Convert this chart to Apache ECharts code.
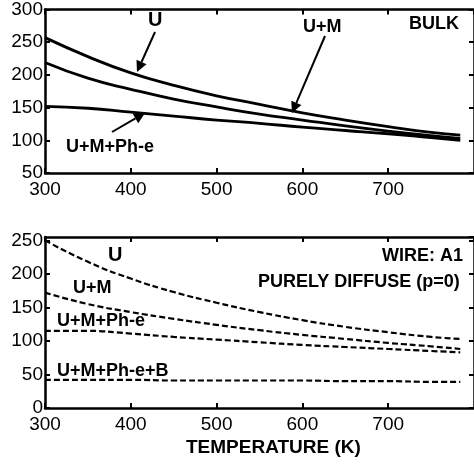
<!DOCTYPE html><html><head><meta charset="utf-8"><script src="https://cdn.jsdelivr.net/npm/echarts@6/dist/echarts.min.js"></script></head><body style="margin:0"><div id="c" style="width:474px;height:474px"></div><script>
const temps=[300,350,400,450,500,550,600,650,700,750,784];
const bulkU=[257,228,203,184,168,155,142,131,121,112,108];
const bulkUM=[219,195,178,163,151,140,131,122,114,107,103];
const bulkUMPh=[152,149,143,137,131,126,120,115,110,104,100];
const wireU=[250,218,193,173,157,143,131,121,113,106,103];
const wireUM=[172,155,143,133,124,116,109,103,97,92,88];
const wireUMPh=[115,115,111,106,102,98,94,91,88,85,83];
const wireUMPhB=[42,42,42,41,41,41,41,40,40,39,39];
const ch=echarts.init(document.getElementById('c'));
const F='Liberation Sans';
const pw=443.5;
function xa(gi,pos,show){return {type:'value',gridIndex:gi,position:pos,min:300,max:800,interval:100,
 axisLine:{show:true,onZero:false,lineStyle:{color:'#000',width:2.5}},axisTick:{inside:true,length:5,lineStyle:{color:'#000',width:2}},
 axisLabel:{show:show,color:'#000',fontFamily:F,fontSize:19,margin:7,showMaxLabel:false},splitLine:{show:false}};}
function ya(gi,pos,show,max){return {type:'value',gridIndex:gi,position:pos,min:gi==0?50:0,max:max,interval:50,
 axisLine:{show:true,onZero:false,lineStyle:{color:'#000',width:2.5}},axisTick:{inside:true,length:5,lineStyle:{color:'#000',width:2}},
 axisLabel:{show:show,color:'#000',fontFamily:F,fontSize:19,margin:2},splitLine:{show:false}};}
function s(d,gi,dash){return {type:'line',xAxisIndex:gi*2,yAxisIndex:gi*2,data:temps.map((t,i)=>[t,d[i]]),smooth:true,symbol:'none',
 lineStyle:{color:'#000',width:dash?2.2:2.8,type:dash?[6,3]:'solid'}};}
const T=(x,y,t,fs)=>({type:'text',left:x,top:y,style:{text:t,font:'bold '+(fs||18)+'px '+F,fill:'#000'}});
const arrow=(x1,y1,x2,y2)=>{const a=Math.atan2(y2-y1,x2-x1),L=11,W=5.5;
 return [{type:'line',shape:{x1,y1,x2:x2-Math.cos(a)*L,y2:y2-Math.sin(a)*L},style:{stroke:'#000',lineWidth:2}},
 {type:'polygon',shape:{points:[[x2,y2],[x2-Math.cos(a)*L-Math.sin(a)*W,y2-Math.sin(a)*L+Math.cos(a)*W],[x2-Math.cos(a)*L+Math.sin(a)*W,y2-Math.sin(a)*L-Math.cos(a)*W]]},style:{fill:'#000'}}];};
ch.setOption({animation:false,
 grid:[{left:45,top:4,width:pw,height:169},{left:45,top:237,width:pw,height:171}],
 xAxis:[xa(0,'bottom',true),xa(0,'top',false),xa(1,'bottom',true),xa(1,'top',false)],
 yAxis:[ya(0,'left',true,300),ya(0,'right',false,300),ya(1,'left',true,255),ya(1,'right',false,255)],
 series:[s(bulkU,0),s(bulkUM,0),s(bulkUMPh,0),s(wireU,1,1),s(wireUM,1,1),s(wireUMPh,1,1),s(wireUMPhB,1,1)],
 graphic:[T(148,10,'U',20),T(303,18,'U+M'),T(409,15,'BULK'),T(66,138,'U+M+Ph-e'),
  ...arrow(155,32,137,72),...arrow(325,36,292,113),...arrow(112,132,145,113),
  T(108,245,'U',20),T(73,279,'U+M'),T(57,312,'U+M+Ph-e'),T(57,362,'U+M+Ph-e+B'),
  T(382,247,'WIRE: A1'),T(258,273,'PURELY DIFFUSE (p=0)'),
  T(186,438,'TEMPERATURE (K)',19)]
});
</script></body></html>
